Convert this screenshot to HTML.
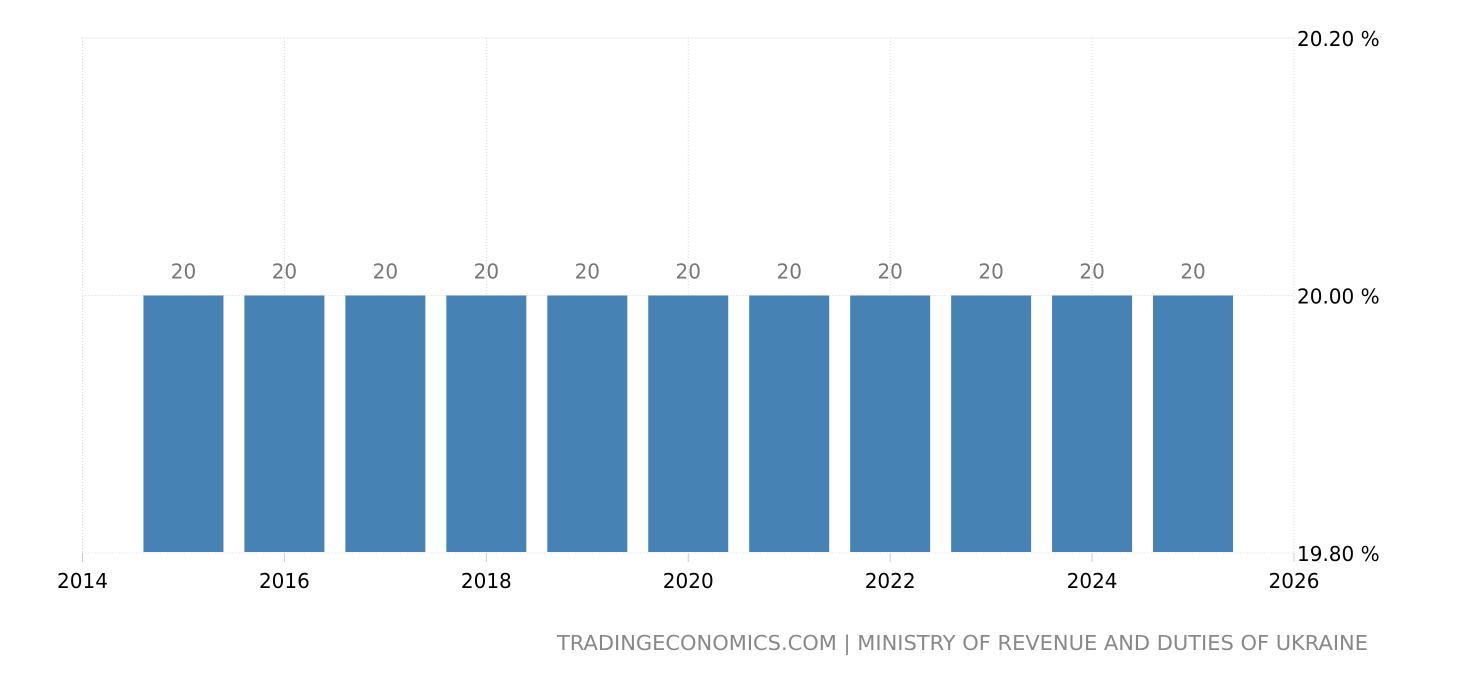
<!DOCTYPE html>
<html><head><meta charset="utf-8"><style>
body{margin:0;background:#fff;}
svg{display:block;font-family:"DejaVu Sans","Liberation Sans",sans-serif;}
</style></head><body>
<svg id="c" width="1460" height="680"></svg>
<script>
const categories=[2015,2016,2017,2018,2019,2020,2021,2022,2023,2024,2025];
const values=[20,20,20,20,20,20,20,20,20,20,20];
const yTicks=[19.8,20.0,20.2];
const xTicks=[2014,2016,2018,2020,2022,2024,2026];
const NS="http://www.w3.org/2000/svg";
const svg=document.getElementById('c');
const x0=82.5,x1=1294,y0=553,y1=38;
const xs=v=>x0+(v-2014)/(2026-2014)*(x1-x0);
const ys=v=>y0-(v-19.8)/(0.4)*(y0-y1);
function mk(t,a,p){const e=document.createElementNS(NS,t);for(const k in a)e.setAttribute(k,a[k]);(p||svg).appendChild(e);return e;}
xTicks.forEach(t=>{const g=mk('line',{x1:xs(t),x2:xs(t),y1:y1,y2:y0,stroke:'#d8d8d8','stroke-dasharray':'1,2'});


const tk=mk('line',{x1:xs(t),x2:xs(t),y1:y0,y2:y0+9,stroke:'#ccc'});


const l=mk('text',{x:xs(t),y:588,'text-anchor':'middle','font-size':20,fill:'#000'});l.textContent=t;

});
yTicks.forEach(t=>{const g=mk('line',{x1:x0,x2:x1,y1:ys(t),y2:ys(t),stroke:'#d8d8d8','stroke-dasharray':'1,2'});


const l=mk('text',{x:1297,y:ys(t)+8,'font-size':20,fill:'#000'});l.textContent=t.toFixed(2)+' %';

});
categories.forEach((c,i)=>{const cx=xs(c),w=80,top=ys(values[i]);
const r=mk('rect',{x:cx-w/2,y:top,width:w,height:y0-1-top,fill:'#4682b4'});


const l=mk('text',{x:cx,y:top-17,'text-anchor':'middle','font-size':20,fill:'#777'});l.textContent=values[i];

});
const f=mk('text',{x:557,y:650,'font-size':20,fill:'#888',textLength:811,lengthAdjust:'spacingAndGlyphs'});
f.textContent='TRADINGECONOMICS.COM | MINISTRY OF REVENUE AND DUTIES OF UKRAINE';


</script>
</body></html>
